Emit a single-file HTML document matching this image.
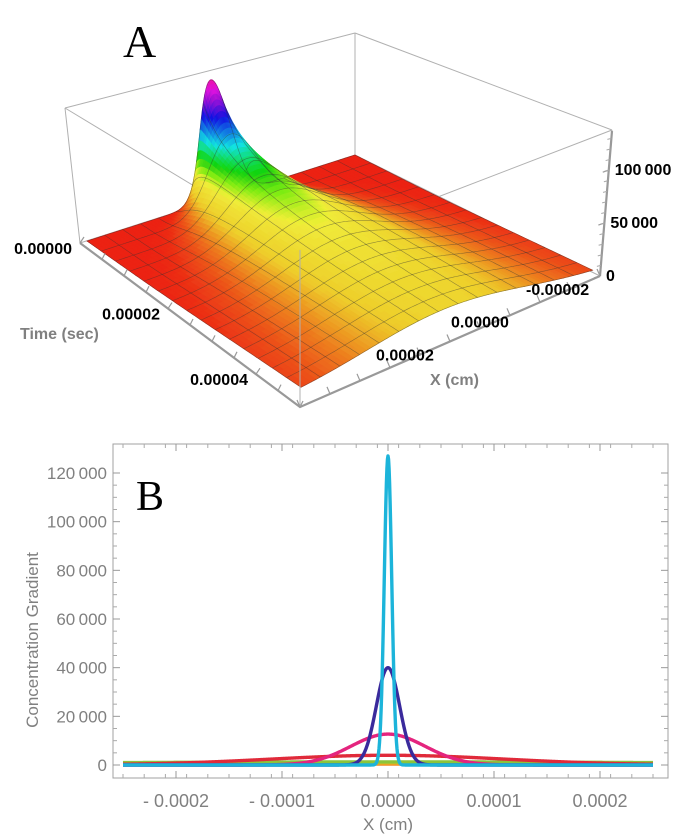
<!DOCTYPE html>
<html><head><meta charset="utf-8"><style>
body{margin:0;background:#fff;}
svg{display:block;font-family:"Liberation Sans",sans-serif;}
</style></head><body>
<svg id="root" width="685" height="835" viewBox="0 0 685 835">
<g id="topchart"></g>
<text x="123" y="57" font-family="Liberation Serif,serif" font-size="46" fill="#000">A</text>
<g id="botchart"></g>
<text x="136" y="510" font-family="Liberation Serif,serif" font-size="42" fill="#000">B</text>
</svg>
<script>
// ---------- Panel B data ----------
const seriesNames = ["t1","t2","t3","t4","t5","t6","t7"];
const seriesPeaks = [127000, 40000, 12700, 4000, 1270, 900, 400];
const seriesWidths = [0.0000035, 0.000011, 0.000035, 0.00011, 0.00035, 0.0008, 0.0011];
const seriesColors = ["#1cb4da","#3a2a9c","#e4247e","#e02a3a","#8cc43a","#e8b820","#f08a20"];
const yTicks = [0,20000,40000,60000,80000,100000,120000];
const yTickLabels = ["0","20\u2009000","40\u2009000","60\u2009000","80\u2009000","100\u2009000","120\u2009000"];
const xTicks = [-0.0002,-0.0001,0,0.0001,0.0002];
const xTickLabels = ["- 0.0002","- 0.0001","0.0000","0.0001","0.0002"];
// ---------- Panel A data ----------
const zTicks = [0,50000,100000];
const zTickLabels = ["0","50\u2009000","100\u2009000"];
const tTicks = [0,0.00002,0.00004];
const tTickLabels = ["0.00000","0.00002","0.00004"];
const xTicks3 = [-0.00002,0,0.00002];
const xTickLabels3 = ["-0.00002","0.00000","0.00002"];
const surfPeak = [127000];
const surfT0 = [0.000002];
const surfD = [0.0000045];

const NS="http://www.w3.org/2000/svg";
function mk(tag,attrs,parent){const e=document.createElementNS(NS,tag);for(const k in attrs)e.setAttribute(k,attrs[k]);parent.appendChild(e);return e;}

// ===== Panel B =====
(function(){
const g=document.getElementById('botchart');
const L=113,R=668,T=444,B=778;
const sx=v=>388+v*1060000;
const sy=v=>765-v*(292/120000);
const fr=mk('rect',{x:L,y:T,width:R-L,height:B-T,fill:'none',stroke:'#a0a0a0','stroke-width':1},g);


for(let i=0;i<yTicks.length;i++){
  const y=sy(yTicks[i]);
  mk('line',{x1:L,y1:y,x2:L+7,y2:y,stroke:'#999'},g);
  mk('line',{x1:R,y1:y,x2:R-7,y2:y,stroke:'#999'},g);
  const t=mk('text',{x:107,y:y+6,'text-anchor':'end','font-size':17,fill:'#808080'},g);
  t.textContent=yTickLabels[i];
  
  
  if(i<yTicks.length-1){for(let k=1;k<4;k++){const ym=sy(yTicks[i]+k*5000);mk('line',{x1:L,y1:ym,x2:L+4,y2:ym,stroke:'#aaa'},g);mk('line',{x1:R,y1:ym,x2:R-4,y2:ym,stroke:'#aaa'},g);}}
}
for(let i=0;i<xTicks.length;i++){
  const x=sx(xTicks[i]);
  mk('line',{x1:x,y1:B,x2:x,y2:B-7,stroke:'#999'},g);
  mk('line',{x1:x,y1:T,x2:x,y2:T+7,stroke:'#999'},g);
  const t=mk('text',{x:x,y:807,'text-anchor':'middle','font-size':18,fill:'#808080'},g);
  t.textContent=xTickLabels[i];
  
  
}
for(let v=-0.00025;v<=0.000251;v+=0.00002){const x=sx(v);mk('line',{x1:x,y1:B,x2:x,y2:B-4,stroke:'#aaa'},g);mk('line',{x1:x,y1:T,x2:x,y2:T+4,stroke:'#aaa'},g);}
const yl=mk('text',{x:0,y:0,transform:'translate(38,640) rotate(-90)','text-anchor':'middle','font-size':17,fill:'#808080'},g);
yl.textContent='Concentration Gradient';


const xl=mk('text',{x:388,y:830,'text-anchor':'middle','font-size':17,fill:'#808080'},g);
xl.textContent='X (cm)';


for(let s=seriesPeaks.length-1;s>=0;s--){
  let d='';
  for(let i=0;i<=1000;i++){
    const x=-0.00025+i*0.0005/1000;
    const v=seriesPeaks[s]*Math.exp(-x*x/(2*seriesWidths[s]*seriesWidths[s]));
    d+=(i?'L':'M')+sx(x).toFixed(2)+','+sy(v).toFixed(2);
  }
  const p=mk('path',{d:d,fill:'none',stroke:seriesColors[s],'stroke-width':3.4,'stroke-linejoin':'round'},g);
  
  
}
})();

// ===== Panel A =====
(function(){
const g=document.getElementById('topchart');
const tmax=0.00005,xmax=0.00004,zTop=137000;
const F=[[87,241],[301,392],[592,275],[355,155]];
const Tp=[[65,108],[300,250],[612,130],[355,33]];
function bil(C,u,v){
  const a=[C[0][0]*(1-u)+C[1][0]*u,C[0][1]*(1-u)+C[1][1]*u];
  const b=[C[3][0]*(1-u)+C[2][0]*u,C[3][1]*(1-u)+C[2][1]*u];
  return [a[0]*(1-v)+b[0]*v,a[1]*(1-v)+b[1]*v];
}
function P(t,x,z){const u=t/tmax,v=(xmax-x)/(2*xmax);const f=bil(F,u,v),tp=bil(Tp,u,v);const w=z/zTop;return [f[0]+(tp[0]-f[0])*w,f[1]+(tp[1]-f[1])*w];}
function Z(t,x){const tt=t+surfT0[0];return surfPeak[0]*Math.sqrt(surfT0[0]/tt)*Math.exp(-x*x/(4*surfD[0]*tt));}
const stops=[[0,4,50],[0.08,25,52],[0.17,50,55],[0.28,58,58],[0.4,110,45],[0.55,185,48],[0.7,235,48],[0.85,285,45],[1,320,50]];
function col(z){const r=Math.min(1,z/127000);let k=0;while(k<stops.length-2&&r>stops[k+1][0])k++;const a=stops[k],b=stops[k+1];const f=(r-a[0])/(b[0]-a[0]);const h=a[1]+(b[1]-a[1])*f,l=a[2]+(b[2]-a[2])*f;return 'hsl('+h.toFixed(0)+',85%,'+l.toFixed(0)+'%)';}
const bx=mk('g',{stroke:'#b0b0b0','stroke-width':1,fill:'none'},g);


[[Tp[0],Tp[3]],[Tp[3],Tp[2]],[Tp[0],Tp[1]],[Tp[1],Tp[2]],[Tp[0],[80,243]],[Tp[3],F[3]],[Tp[2],[600,276]],[F[3],[80,243]],[F[3],[600,276]]].forEach(e=>mk('line',{x1:e[0][0],y1:e[0][1],x2:e[1][0],y2:e[1][1]},bx));
const ts=[],xs=[];
const NT=50,NX=90;
for(let i=0;i<=NT;i++){ts.push(tmax*Math.pow(i/NT,1.8));}
for(let j=0;j<=NX;j++){const s=-1+2*j/NX;xs.push(xmax*Math.sign(s)*Math.pow(Math.abs(s),1.6));}
const surf=mk('g',{},g);


const cells=[];
for(let i=0;i<NT;i++)for(let j=0;j<NX;j++){
  const t0=ts[i],t1=ts[i+1],x0=xs[j],x1=xs[j+1];
  const zs=[Z(t0,x0),Z(t1,x0),Z(t1,x1),Z(t0,x1)];
  const pts=[P(t0,x0,zs[0]),P(t1,x0,zs[1]),P(t1,x1,zs[2]),P(t0,x1,zs[3])];
  const depth=(t0+t1)/2/tmax+((x0+x1)/2)/(2*xmax);
  cells.push({pts,z:(zs[0]+zs[1]+zs[2]+zs[3])/4,depth});
}
cells.sort((a,b)=>a.depth-b.depth);
cells.forEach(c=>{const cl=col(c.z);mk('polygon',{points:c.pts.map(p=>p[0].toFixed(1)+','+p[1].toFixed(1)).join(' '),fill:cl,stroke:cl,'stroke-width':0.6},surf);});
const mesh=mk('g',{stroke:'#333','stroke-opacity':0.5,'stroke-width':0.6,fill:'none'},g);


for(let k=0;k<=15;k++){const t=tmax*k/15;let d='';for(let j=0;j<=160;j++){const x=-xmax+2*xmax*j/160;const p=P(t,x,Z(t,x));d+=(j?'L':'M')+p[0].toFixed(1)+','+p[1].toFixed(1);}mk('path',{d},mesh);}
for(let k=0;k<=15;k++){const x=-xmax+2*xmax*k/15;let d='';for(let i=0;i<=160;i++){const t=tmax*Math.pow(i/160,1.5);const p=P(t,x,Z(t,x));d+=(i?'L':'M')+p[0].toFixed(1)+','+p[1].toFixed(1);}mk('path',{d},mesh);}
mk('line',{x1:300,y1:250,x2:300,y2:405,stroke:'#b0b0b0','stroke-width':1},g);
const ax=mk('g',{stroke:'#999','stroke-width':2.2,fill:'none'},g);


mk('path',{d:'M80,243 L300,407 L600,276 M600,276 L612,131'},ax);
const lab=(x,y,s,anc,nm,fill,size)=>{const t=mk('text',{x,y,'text-anchor':anc,'font-size':size||16,'font-weight':'bold',fill:fill||'#000'},g);t.textContent=s;};
for(let k=0;k<=10;k++){const u=k/10;const a=[80+220*u,243+164*u];mk('line',{x1:a[0],y1:a[1],x2:a[0]+(k%4==0?4:3),y2:a[1]-6,stroke:'#999','stroke-width':1.2},g);}
for(let i=0;i<tTicks.length;i++){const u=tTicks[i]/tmax;lab(72+220*u,254+164*u,tTickLabels[i],'end','time-tick-label');}
for(let k=0;k<=10;k++){const v=k/10;const a=[300+300*v,407-131*v];mk('line',{x1:a[0],y1:a[1],x2:a[0]-3,y2:a[1]-7,stroke:'#999','stroke-width':1.2},g);}
for(let i=0;i<xTicks3.length;i++){const v=(xmax-xTicks3[i])/(2*xmax);lab(300+300*v+1,407-131*v-14,xTickLabels3[i],'start','x-tick-label');}
for(let i=0;i<zTicks.length;i++){const w=zTicks[i]/zTop;const y=276-145*w;const x=600+12*w;mk('line',{x1:x,y1:y,x2:x-6,y2:y+2,stroke:'#999','stroke-width':1.2},g);lab(x+6,y+5,zTickLabels[i],'start','z-tick-label');}
for(let k=1;k<14;k++){const w=k*10000/zTop;const y=276-145*w;const x=600+12*w;mk('line',{x1:x,y1:y,x2:x-4,y2:y+1,stroke:'#aaa','stroke-width':1},g);}
lab(20,339,'Time (sec)','start','time-axis-title','#808080',16);
lab(430,385,'X (cm)','start','x-axis-title','#808080',16);
})();
</script>
</body></html>
